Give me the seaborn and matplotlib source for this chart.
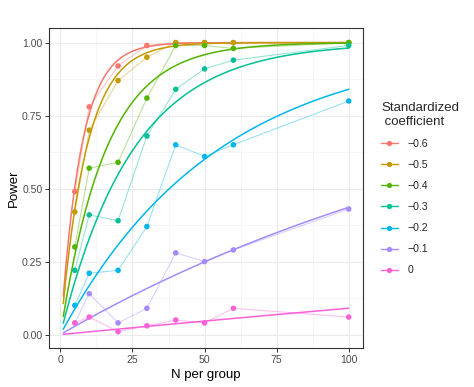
import numpy as np
import pandas as pd
import matplotlib
matplotlib.use("Agg")
import matplotlib.pyplot as plt
from matplotlib.lines import Line2D
import seaborn as sns

# ---- data ----
n_per_group = [5, 10, 20, 30, 40, 50, 60, 100]
coef_labels = ["\u22120.6", "\u22120.5", "\u22120.4", "\u22120.3", "\u22120.2", "\u22120.1", "0"]
power_m06 = [0.49, 0.78, 0.92, 0.99, 1.00, 1.00, 1.00, 1.00]
power_m05 = [0.42, 0.70, 0.87, 0.95, 1.00, 1.00, 1.00, 1.00]
power_m04 = [0.30, 0.57, 0.59, 0.81, 0.99, 0.99, 0.98, 1.00]
power_m03 = [0.22, 0.41, 0.39, 0.68, 0.84, 0.91, 0.94, 0.99]
power_m02 = [0.10, 0.21, 0.22, 0.37, 0.65, 0.61, 0.65, 0.80]
power_m01 = [0.04, 0.14, 0.04, 0.09, 0.28, 0.25, 0.29, 0.43]
power_0 = [0.04, 0.06, 0.01, 0.03, 0.05, 0.04, 0.09, 0.06]
series = [power_m06, power_m05, power_m04, power_m03, power_m02, power_m01, power_0]

palette = ["#F8766D", "#C49A00", "#53B400", "#00C094", "#00B6EB", "#A58AFF", "#FB61D7"]

rows = []
for lab, vals in zip(coef_labels, series):
    for n, p in zip(n_per_group, vals):
        rows.append({"N": n, "Power": p, "coef": lab})
df = pd.DataFrame(rows)

# fitted curves: power = 1 - exp(-k N), least squares fit of k per series
grid_n = np.arange(1, 101)
fit_rows = []
ks = np.exp(np.linspace(np.log(1e-5), np.log(2), 20000))
for lab, vals in zip(coef_labels, series):
    x = np.array(n_per_group, float)
    y = np.array(vals, float)
    pred = 1 - np.exp(-np.outer(ks, x))
    sse = ((pred - y) ** 2).sum(axis=1)
    k = ks[np.argmin(sse)]
    for n in grid_n:
        fit_rows.append({"N": n, "Power": 1 - np.exp(-k * n), "coef": lab})
fit = pd.DataFrame(fit_rows)

sns.set_theme(style="white")
plt.rcParams["font.family"] = ["Liberation Sans", "DejaVu Sans"]

fig = plt.figure(figsize=(4.74, 3.87), dpi=100)
ax = fig.add_axes([49 / 474, 1 - 348 / 387, (363 - 49) / 474, (348 - 28) / 387])

ax.set_xlim(-3.95, 104.95)
ax.set_ylim(-0.046, 1.05)
ax.set_xticks([0, 25, 50, 75, 100])
ax.set_yticks([0, 0.25, 0.5, 0.75, 1.0])
ax.set_yticklabels(["0.00", "0.25", "0.50", "0.75", "1.00"])
ax.set_xticks([12.5, 37.5, 62.5, 87.5], minor=True)
ax.set_yticks([0.125, 0.375, 0.625, 0.875], minor=True)
ax.grid(True, which="major", color="#EBEBEB", linewidth=0.8)
ax.grid(True, which="minor", color="#F2F2F2", linewidth=0.45)
ax.set_axisbelow(True)
for s in ax.spines.values():
    s.set_color("#333333")
    s.set_linewidth(0.8)
ax.tick_params(which="major", length=2.7, width=0.7, color="#333333",
               labelsize=7.6, labelcolor="#4D4D4D", pad=2, left=True, bottom=True)
ax.tick_params(which="minor", length=0)

sns.lineplot(data=df, x="N", y="Power", hue="coef", hue_order=coef_labels,
             palette=palette, alpha=0.4, linewidth=0.8, legend=False, ax=ax)
sns.lineplot(data=fit, x="N", y="Power", hue="coef", hue_order=coef_labels,
             palette=palette, linewidth=1.1, legend=False, ax=ax)
sns.scatterplot(data=df, x="N", y="Power", hue="coef", hue_order=coef_labels,
                palette=palette, s=16, linewidth=0, legend=False, ax=ax, zorder=5)

ax.set_xlabel("N per group", fontsize=9.5, color="black", labelpad=3)
ax.set_ylabel("Power", fontsize=9.5, color="black", labelpad=1.5)

handles = [Line2D([0], [0], color=c, linewidth=1.0, marker="o", markersize=3.8,
                  markeredgewidth=0) for c in palette]
leg = ax.legend(handles, coef_labels, title="Standardized\n coefficient",
                loc="upper left", bbox_to_anchor=(381 / 474, 1 - 102 / 387),
                bbox_transform=fig.transFigure, frameon=False, fontsize=7.6,
                title_fontsize=9.5, handlelength=1.6, handletextpad=0.9,
                labelspacing=1.05, borderaxespad=0, borderpad=0)
leg._legend_box.align = "left"

fig.savefig("out.png", dpi=100)
